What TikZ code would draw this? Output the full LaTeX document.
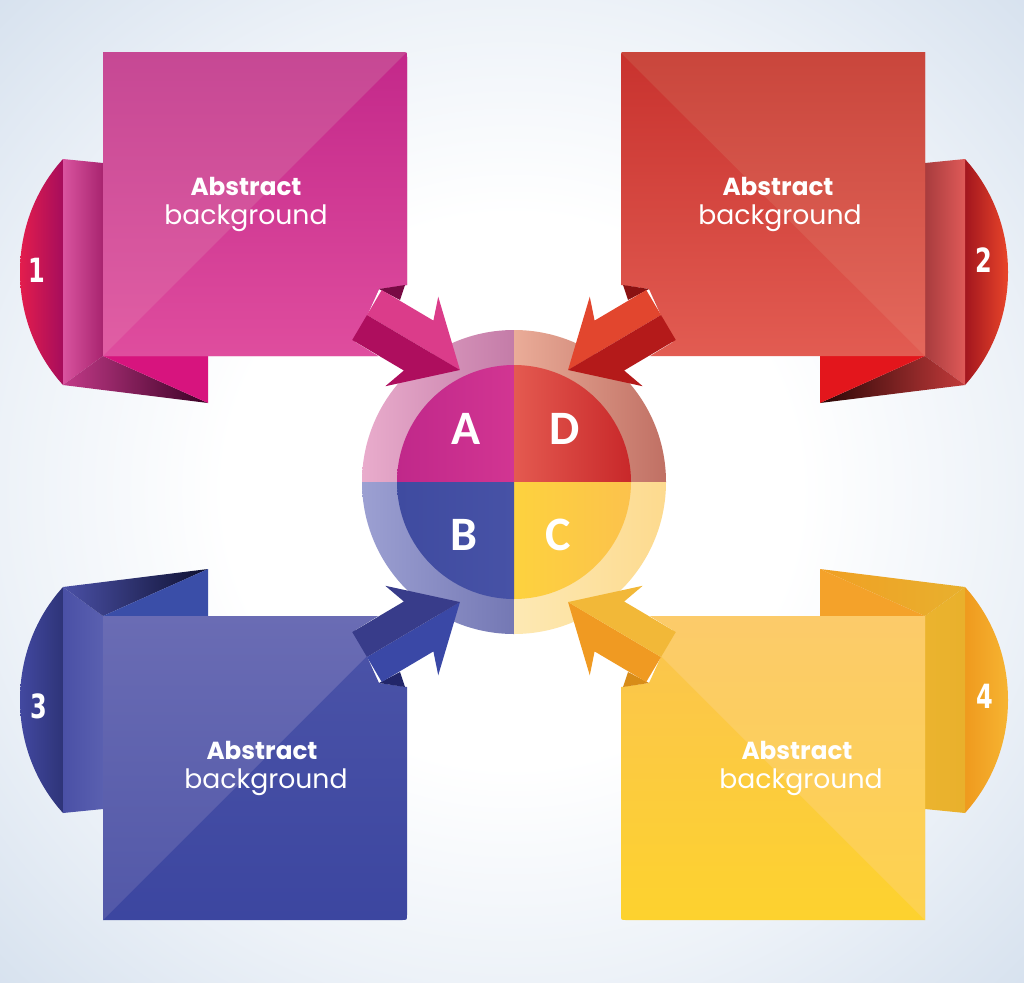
\documentclass[tikz,border=0pt]{standalone}
\usepackage{fontspec}
\newfontfamily\popfont{Poppins}
\newfontfamily\numfont{DejaVu Sans}[FakeStretch=0.72]
\newfontfamily\letfont{Carlito}
\definecolor{bgA}{HTML}{EDF2F8}
\definecolor{bgB}{HTML}{D6E1EE}
\definecolor{ringAL}{HTML}{E9ACCC}\definecolor{ringAR}{HTML}{C47CA8}
\definecolor{ringDL}{HTML}{EAAC98}\definecolor{ringDR}{HTML}{C07064}
\definecolor{ringCL}{HTML}{FDE9B4}\definecolor{ringCR}{HTML}{FDDA8E}
\definecolor{ringBL}{HTML}{9CA0D2}\definecolor{ringBR}{HTML}{7478B4}
\definecolor{inAL}{HTML}{C0288A}\definecolor{inAR}{HTML}{D23592}
\definecolor{inDL}{HTML}{E45A50}\definecolor{inDR}{HTML}{C8282A}
\definecolor{inCL}{HTML}{FDD23E}\definecolor{inCR}{HTML}{FCC24C}
\definecolor{inBL}{HTML}{3F4BA0}\definecolor{inBR}{HTML}{4752A6}
\pgfdeclareradialshading{bgshade}{\pgfpoint{0bp}{0bp}}{color(0bp)=(white); color(14bp)=(white); color(25bp)=(bgA); color(36bp)=(bgB); color(72bp)=(bgB)}
\tikzset{
  txtA/.style={text=white, font=\popfont\bfseries\fontsize{18.5}{20}\selectfont, inner sep=0pt},
  txtB/.style={text=white, font=\popfont\fontsize{20}{22}\selectfont, inner sep=0pt},
  numtxt/.style={text=white, font=\numfont\bfseries\fontsize{25}{27}\selectfont, inner sep=0pt},
  lettxt/.style={text=white, font=\letfont\bfseries\fontsize{36}{38}\selectfont, inner sep=0pt}
}
\newcommand\quadrant[4]{%
\begin{scope}[shift={(514,486)}, x={(#1,0pt)}, y={(0pt,#2)}]
  \shade[left color=discL, right color=discR] (-451,-327) .. controls (-479,-296) and (-494,-256) .. (-494,-214) .. controls (-494,-172) and (-479,-132) .. (-451,-101) -- cycle;
  \shade[left color=stripL, right color=stripR] (-451,-327) -- (-411,-323) -- (-411,-130) -- (-451,-101) -- cycle;
  \shade[left color=foldL, right color=foldR] (-451,-101) -- (-411,-130) -- (-306,-83) -- cycle;
  \fill[foldB] (-411,-130) -- (-306,-130) -- (-306,-83) -- cycle;
  \begin{scope}
    \clip (-411,-434) -- (-112,-434) .. controls (-107,-434) .. (-107,-429) -- (-107,-201) -- (-135,-197) -- (-159,-144) -- (-136,-130) -- (-411,-130) -- cycle;
    \shade[top color=sqT, bottom color=sqB] (-411,-434) rectangle (-107,-130);
    \shade[top color=sqT2, bottom color=sqB2] #4;
  \end{scope}
  \fill[foldS] (-135,-197) -- (-109,-201) -- (-114,-186) -- cycle;
  \begin{scope}[shift={(-147,-171)}, rotate=#3]
    \fill[arL] (0,-29) -- (60,-29) -- (52,-52) -- (108,0) -- (0,0) -- cycle;
    \fill[arD] (0,0) -- (108,0) -- (52,52) -- (60,29) -- (0,29) -- cycle;
  \end{scope}
\end{scope}}
\begin{document}
\begin{tikzpicture}[x=0.75pt,y=-0.75pt]
\useasboundingbox (0,0) rectangle (1024,982);
\shade[shading=bgshade] (0,0) rectangle (1024,982);
% ---- central circle
\shade[left color=ringAL, right color=ringAR] (514,482) -- (362,482) arc[start angle=180, end angle=270, radius=152] -- cycle;
\shade[left color=ringDL, right color=ringDR] (514,482) -- (514,330) arc[start angle=270, end angle=360, radius=152] -- cycle;
\shade[left color=ringCL, right color=ringCR] (514,482) -- (666,482) arc[start angle=0, end angle=90, radius=152] -- cycle;
\shade[left color=ringBL, right color=ringBR] (514,482) -- (514,634) arc[start angle=90, end angle=180, radius=152] -- cycle;
\shade[left color=inAL, right color=inAR] (514,482) -- (397,482) arc[start angle=180, end angle=270, radius=117] -- cycle;
\shade[left color=inDL, right color=inDR] (514,482) -- (514,365) arc[start angle=270, end angle=360, radius=117] -- cycle;
\shade[left color=inCL, right color=inCR] (514,482) -- (631,482) arc[start angle=0, end angle=90, radius=117] -- cycle;
\shade[left color=inBL, right color=inBR] (514,482) -- (514,599) arc[start angle=90, end angle=180, radius=117] -- cycle;
% ---- quadrant 1 (magenta)
\definecolor{discL}{HTML}{E31D4D}\definecolor{discR}{HTML}{A60D5C}
\definecolor{stripL}{HTML}{D9549F}\definecolor{stripR}{HTML}{A8246F}
\definecolor{foldL}{HTML}{C23A88}\definecolor{foldR}{HTML}{3A0024}
\definecolor{foldB}{HTML}{D7147E}
\definecolor{sqT}{HTML}{C64894}\definecolor{sqB}{HTML}{E15EA4}
\definecolor{sqT2}{HTML}{C3288A}\definecolor{sqB2}{HTML}{DF4D9E}
\definecolor{foldS}{HTML}{780A44}
\definecolor{arL}{HTML}{DB3C8A}\definecolor{arD}{HTML}{AE0E5E}
\quadrant{0.75pt}{-0.75pt}{-30.6}{(-411,-130) -- (-107,-434) -- (-107,-130) -- cycle}
% ---- quadrant 2 (red)
\definecolor{discL}{HTML}{A2161E}\definecolor{discR}{HTML}{E9452A}
\definecolor{stripL}{HTML}{A83C3E}\definecolor{stripR}{HTML}{DF5A58}
\definecolor{foldL}{HTML}{2A0606}\definecolor{foldR}{HTML}{C23A3A}
\definecolor{foldB}{HTML}{E3161C}
\definecolor{sqT}{HTML}{C8322E}\definecolor{sqB}{HTML}{E25C52}
\definecolor{sqT2}{HTML}{C9463C}\definecolor{sqB2}{HTML}{E4685C}
\definecolor{foldS}{HTML}{8A1212}
\definecolor{arL}{HTML}{E2462E}\definecolor{arD}{HTML}{B41A1A}
\quadrant{-0.75pt}{-0.75pt}{30.6}{(-106,-434) -- (-411,-434) -- (-411,-130) -- cycle}
% ---- quadrant 3 (blue)
\definecolor{discL}{HTML}{4248A0}\definecolor{discR}{HTML}{2E3478}
\definecolor{stripL}{HTML}{4A50A6}\definecolor{stripR}{HTML}{5A60B0}
\definecolor{foldL}{HTML}{4A50A6}\definecolor{foldR}{HTML}{0E1030}
\definecolor{foldB}{HTML}{3A4EA8}
\definecolor{sqT}{HTML}{4C54A8}\definecolor{sqB}{HTML}{3C46A0}
\definecolor{sqT2}{HTML}{6A6CB4}\definecolor{sqB2}{HTML}{5258A8}
\definecolor{foldS}{HTML}{22266A}
\definecolor{arL}{HTML}{3A48A6}\definecolor{arD}{HTML}{383C8A}
\quadrant{0.75pt}{0.75pt}{30.6}{(-411,-130) -- (-107,-130) -- (-411,-434) -- cycle}
% ---- quadrant 4 (yellow)
\definecolor{discL}{HTML}{EF9A1E}\definecolor{discR}{HTML}{F6B432}
\definecolor{stripL}{HTML}{EBB42E}\definecolor{stripR}{HTML}{E9B02C}
\definecolor{foldL}{HTML}{F0A024}\definecolor{foldR}{HTML}{E8B02E}
\definecolor{foldB}{HTML}{F4A22A}
\definecolor{sqT}{HTML}{FBC450}\definecolor{sqB}{HTML}{FDD22E}
\definecolor{sqT2}{HTML}{FCCB6A}\definecolor{sqB2}{HTML}{FDD24E}
\definecolor{foldS}{HTML}{D88C18}
\definecolor{arL}{HTML}{F09A22}\definecolor{arD}{HTML}{F2B838}
\quadrant{-0.75pt}{0.75pt}{-30.6}{(-107,-130) -- (-411,-130) -- (-411,-434) -- cycle}
% ---- texts
\node[txtA] (t1a) at (246,186) {Abstract};
\node[txtB] (t1b) at (246,218) {background};
\node[txtA] (t2a) at (778,186) {Abstract};
\node[txtB] (t2b) at (780,218) {background};
\node[txtA] (t3a) at (262,750) {Abstract};
\node[txtB] (t3b) at (266,782) {background};
\node[txtA] (t4a) at (797,750) {Abstract};
\node[txtB] (t4b) at (801,782) {background};
\node[numtxt] (n1) at (37,270) {1};
\node[numtxt] (n2) at (984,260) {2};
\node[numtxt] (n3) at (39,706) {3};
\node[numtxt] (n4) at (985,696) {4};
\node[lettxt] (la) at (466,429) {A};
\node[lettxt] (ld) at (565,429) {D};
\node[lettxt] (lb) at (464,535) {B};
\node[lettxt] (lc) at (558,535) {C};
\end{tikzpicture}
\end{document}
